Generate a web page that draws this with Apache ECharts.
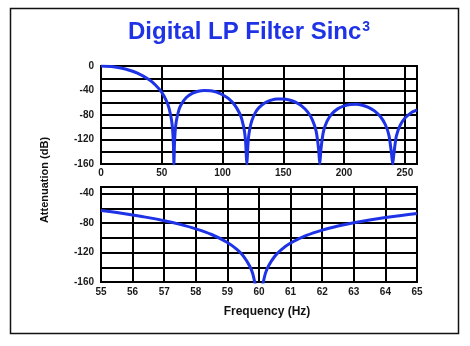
<!DOCTYPE html>
<html>
<head>
<meta charset="utf-8">
<script src="https://cdn.jsdelivr.net/npm/echarts@6/dist/echarts.min.js"></script>
<style>
  html, body { margin: 0; padding: 0; background: #fff; }
  #chart { width: 470px; height: 346px; }
</style>
</head>
<body>
<div id="chart"></div>
<script>
// Wideband response, 0–260 Hz: [frequency (Hz), attenuation (dB)]
const wideFreq = [0, 10, 20, 30, 40, 45, 50, 54, 56, 58, 59, 59.6, 60,
  60.4, 61, 62, 64, 66, 70, 75, 80, 85, 90, 95, 100, 105, 110, 114, 116, 118, 119, 119.6, 120,
  120.4, 121, 122, 124, 127, 130, 135, 140, 145, 150, 155, 160, 165, 170, 174, 177, 179, 180,
  181, 183, 186, 190, 195, 200, 205, 210, 215, 220, 225, 230, 234, 237, 239, 240,
  241, 243, 246, 250, 255, 260];
const wideAtten = [0, -1.2, -4.9, -11.8, -23.0, -31.4, -43.1, -57.7, -69.0, -87.8, -106.3, -130.4, -160,
  -130.7, -107.1, -89.5, -72.4, -62.9, -51.9, -44.7, -41.1, -39.8, -40.4, -42.7, -46.9, -53.4, -63.7, -77.2, -87.9, -106.3, -124.5, -148.5, -160,
  -148.7, -125.0, -107.2, -89.7, -76.1, -68.0, -60.0, -55.7, -53.7, -53.7, -55.5, -59.1, -65.2, -75.0, -88.2, -106.4, -135.2, -160,
  -135.5, -107.2, -89.9, -77.9, -69.6, -65.0, -62.7, -62.5, -64.0, -67.4, -73.3, -82.9, -95.9, -114.0, -142.7, -160,
  -142.9, -114.6, -97.2, -85.1, -76.6, -71.8];

// Close-up around the 60 Hz notch: [frequency (Hz), attenuation (dB)]
const zoomFreq = [55, 55.5, 56, 56.5, 57, 57.5, 58, 58.5, 59, 59.3, 59.5, 59.7, 59.8, 59.9, 60,
  60.1, 60.2, 60.3, 60.5, 60.7, 61, 61.5, 62, 62.5, 63, 63.5, 64, 64.5, 65];
const zoomAtten = [-62.8, -65.7, -69.0, -72.6, -76.8, -81.8, -87.8, -95.5, -106.3, -115.7, -124.5, -137.9, -148.5, -166.6, -180,
  -166.8, -148.7, -138.2, -125.0, -116.3, -107.1, -96.8, -89.5, -84.0, -79.5, -75.7, -72.4, -69.6, -67.1];

const titleMain = 'Digital LP Filter Sinc';
const titleSup = '3';
const yName = 'Attenuation (dB)';
const xName = 'Frequency (Hz)';

const pairs = (xs, ys) => xs.map((x, i) => [x, ys[i]]);

const FONT = '"Liberation Sans", Arial, sans-serif';
const BLUE = '#1f33e6';
const labelStyle = { color: '#1a1a1a', fontWeight: 'bold', fontSize: 10, fontFamily: FONT };
const gridLine = { show: true, lineStyle: { color: '#000', width: 2 } };
const every40 = v => (Math.round(v) % 40 === 0 ? String(Math.round(v)) : '');

const chart = echarts.init(document.getElementById('chart'), null, { renderer: 'canvas' });
chart.setOption({
  animation: false,
  backgroundColor: '#fff',
  title: {
    text: '{a|' + titleMain + '}{b|' + titleSup + '}',
    left: 123, top: 15,
    textStyle: {
      rich: {
        a: { color: BLUE, fontSize: 24, fontWeight: 'bold', fontFamily: FONT },
        b: { color: BLUE, fontSize: 14, fontWeight: 'bold', fontFamily: FONT, verticalAlign: 'top', padding: [0, 0, 10, 1] }
      }
    }
  },
  graphic: [
    { type: 'rect', shape: { x: 10.5, y: 8.5, width: 448, height: 325 },
      style: { fill: 'none', stroke: '#111', lineWidth: 1.5 }, silent: true },
    { type: 'text', x: 45, y: 180, rotation: Math.PI / 2,
      style: { text: yName, fill: '#111', font: 'bold 11px ' + FONT, align: 'center', verticalAlign: 'middle' } },
    { type: 'text', x: 267, y: 312,
      style: { text: xName, fill: '#111', font: 'bold 12px ' + FONT, align: 'center', verticalAlign: 'middle' } }
  ],
  grid: [
    { left: 101, top: 66, width: 316, height: 98, show: true, borderColor: '#000', borderWidth: 2 },
    { left: 101, top: 187, width: 316, height: 95, show: true, borderColor: '#000', borderWidth: 2 }
  ],
  xAxis: [
    { gridIndex: 0, type: 'value', min: 0, max: 260, interval: 50,
      axisLine: { show: true, lineStyle: { color: '#000', width: 2 } }, axisTick: { show: false },
      axisLabel: Object.assign({ margin: 4, showMaxLabel: false }, labelStyle), splitLine: gridLine },
    { gridIndex: 1, type: 'value', min: 55, max: 65, interval: 1,
      axisLine: { show: true, lineStyle: { color: '#000', width: 2 } }, axisTick: { show: false },
      axisLabel: Object.assign({ margin: 5 }, labelStyle), splitLine: gridLine }
  ],
  yAxis: [
    { gridIndex: 0, type: 'value', min: -160, max: 0, interval: 20,
      axisLine: { show: true, lineStyle: { color: '#000', width: 2 } }, axisTick: { show: false },
      axisLabel: Object.assign({ margin: 7, formatter: every40 }, labelStyle), splitLine: gridLine },
    { gridIndex: 1, type: 'value', min: -160, max: -31, interval: 20,
      axisLine: { show: true, lineStyle: { color: '#000', width: 2 } }, axisTick: { show: false },
      axisLabel: Object.assign({ margin: 7, showMaxLabel: false, formatter: every40 }, labelStyle), splitLine: gridLine }
  ],
  series: [
    { type: 'line', xAxisIndex: 0, yAxisIndex: 0, data: pairs(wideFreq, wideAtten),
      showSymbol: false, smooth: 0.25, clip: true, lineStyle: { color: BLUE, width: 3 } },
    { type: 'line', xAxisIndex: 1, yAxisIndex: 1, data: pairs(zoomFreq, zoomAtten),
      showSymbol: false, smooth: 0.25, clip: true, lineStyle: { color: BLUE, width: 3 } }
  ]
});
</script>
</body>
</html>
